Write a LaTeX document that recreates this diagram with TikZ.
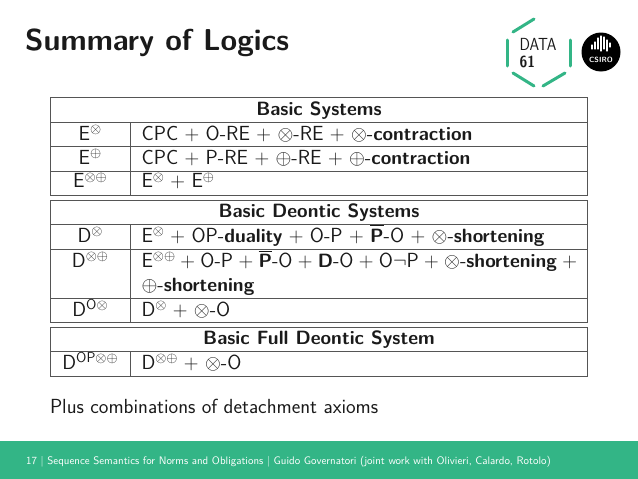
\RequirePackage{fix-cm}
\documentclass[tikz,border=0pt]{standalone}
\usepackage{fontspec}
\usepackage{amsmath,amssymb}
\definecolor{datagreen}{HTML}{33B586}
\definecolor{rulegray}{HTML}{555555}
\definecolor{inkblack}{HTML}{1A1A1A}
\newcommand{\ot}{$\otimes$}
\newcommand{\op}{$\oplus$}
\newcommand{\bfx}[1]{{\fontsize{19.2}{22}\selectfont\bfseries #1}}
\newcommand{\Pb}{$\overline{\text{\bfx{P}}}$}
\newcommand{\ssp}[1]{\raisebox{6.8pt}{\fontsize{14.3}{15}\selectfont #1}}
\newcommand{\sot}{$\otimes$}
\newcommand{\sop}{$\oplus$}
\begin{document}
\begin{tikzpicture}[x=1pt,y=-1pt,
  tbl/.style={draw=rulegray,line width=0.9pt},
  cell/.style={inner sep=0pt,outer sep=0pt,anchor=base west,font=\fontsize{20.4}{24}\selectfont\sffamily,text=inkblack},
  namecell/.style={inner sep=0pt,outer sep=0pt,anchor=base,font=\fontsize{20.4}{24}\selectfont\sffamily,text=inkblack},
  headcell/.style={inner sep=0pt,outer sep=0pt,anchor=base,font=\fontsize{19.2}{22}\selectfont\sffamily\bfseries,text=inkblack},
  hexseg/.style={draw=datagreen,line width=3pt,line cap=round}]
\useasboundingbox (0,0) rectangle (638,479);
\fill[white] (0,0) rectangle (638,479);
% footer
\fill[datagreen] (0,441) rectangle (638,479);
\node[inner sep=0pt,anchor=base west,text=white,font=\fontsize{10.9}{13}\selectfont\sffamily] (foot) at (26,464)
  {17 | Sequence Semantics for Norms and Obligations | Guido Governatori (joint work with Olivieri, Calardo, Rotolo)};
% title
\node[inner sep=0pt,anchor=base west,text=inkblack,font=\fontsize{30.2}{34}\selectfont\sffamily\bfseries] (title) at (25,50) {Summary of Logics};
% logo
\draw[hexseg] (513,32) -- (534,19);
\draw[hexseg] (507,40) -- (507,66);
\draw[hexseg] (570,40) -- (570,66);
\draw[hexseg] (513,73) -- (534,86);
\draw[hexseg] (543,86) -- (565,73);
\node[inner sep=0pt,anchor=base west,text=inkblack,xscale=0.88,font=\fontsize{17.5}{18}\selectfont\sffamily] (data) at (519.5,50) {DATA};
\node[inner sep=0pt,anchor=base west,text=inkblack,xscale=0.88,font=\fontsize{16}{18}\selectfont\sffamily\bfseries] (sixtyone) at (519.5,67) {61};
\fill[black] (601,52) circle (19.5);
\node[inner sep=0pt,anchor=base,text=white,font=\fontsize{7.5}{8}\selectfont\sffamily\bfseries] (csiro) at (601,62.5) {CSIRO};
\foreach \x/\a/\b in {595/42/49,598/38/49,601/36/51,604/37/49,607/40/51,592/45/49,610/43/47}
  \draw[white,line width=1.1pt,line cap=round] (\x,\a) -- (\x,\b);
% table rules
\draw[tbl] (50,97.5) rectangle (587.5,195.5);
\draw[tbl] (50,122) -- (587.5,122) (50,146.5) -- (587.5,146.5) (50,171) -- (587.5,171) (130.5,122) -- (130.5,195.5);
\draw[tbl] (50,200) rectangle (587.5,322.5);
\draw[tbl] (50,224.5) -- (587.5,224.5) (50,249) -- (587.5,249) (50,298) -- (587.5,298) (130.5,224.5) -- (130.5,322.5);
\draw[tbl] (50,327) rectangle (587.5,376);
\draw[tbl] (50,351.5) -- (587.5,351.5) (130.5,351.5) -- (130.5,376);
% table 1
\node[headcell] (h1) at (319,115) {Basic Systems};
\node[namecell] (n1) at (90,140) {E\ssp{\sot}};
\node[cell] (c1) at (141.5,140) {CPC $+$ O-RE $+$ \ot-RE $+$ \ot-\bfx{contraction}};
\node[namecell] (n2) at (90,164.5) {E\ssp{\sop}};
\node[cell] (c2) at (141.5,164.5) {CPC $+$ P-RE $+$ \op-RE $+$ \op-\bfx{contraction}};
\node[namecell] (n3) at (90,187.8) {E\ssp{\sot\sop}};
\node[cell] (c3) at (141.5,187.8) {E\ssp{\sot} $+$ E\ssp{\sop}};
% table 2
\node[headcell] (h2) at (319,217.5) {Basic Deontic Systems};
\node[namecell] (n4) at (90,242) {D\ssp{\sot}};
\node[cell] (c4) at (141.5,242) {E\ssp{\sot} $+$ OP-\bfx{duality} $+$ O-P $+$ \Pb-O $+$ \ot-\bfx{shortening}};
\node[namecell] (n5) at (90,267.3) {D\ssp{\sot\sop}};
\node[cell] (c5) at (141.5,267.3) {\spaceskip=5.3pt E\ssp{\sot\sop} $+$ O-P $+$ \Pb-O $+$ \bfx{D}-O $+$ O$\neg$P $+$ \ot-\bfx{shortening} $+$};
\node[cell] (c5b) at (141.5,291.5) {\op-\bfx{shortening}};
\node[namecell] (n6) at (90,316) {D\ssp{O\sot}};
\node[cell] (c6) at (141.5,316) {D\ssp{\sot} $+$ \ot-O};
% table 3
\node[headcell] (h3) at (319,344.5) {Basic Full Deontic System};
\node[namecell] (n7) at (90,369.5) {D\ssp{OP\sot\sop}};
\node[cell] (c7) at (141.5,369.5) {D\ssp{\sot\sop} $+$ \ot-O};
% note
\node[cell] (note) at (50,413) {Plus combinations of detachment axioms};
\end{tikzpicture}
\end{document}
